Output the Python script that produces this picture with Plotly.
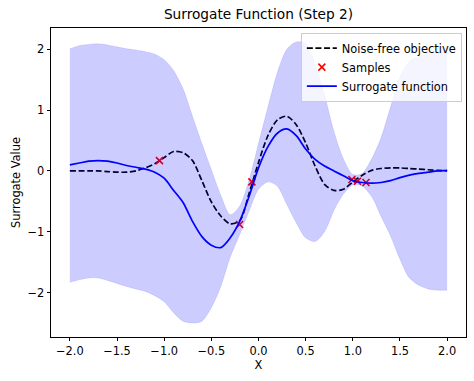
import plotly.graph_objects as go

# ---- data ----
x_grid = [-2.0, -1.9, -1.8, -1.7, -1.6, -1.5, -1.4, -1.3, -1.2, -1.1, -1.0,
          -0.9, -0.8, -0.7, -0.6, -0.5, -0.4, -0.3, -0.2, -0.1, 0.0,
          0.1, 0.2, 0.3, 0.4, 0.5, 0.6, 0.7, 0.8, 0.9, 1.0,
          1.1, 1.2, 1.3, 1.4, 1.5, 1.6, 1.7, 1.8, 1.9, 2.0]

objective = [0.00, 0.00, 0.00, 0.00, -0.01, -0.02, -0.02, 0.00, 0.05, 0.12, 0.22,
             0.32, 0.30, 0.17, -0.16, -0.51, -0.74, -0.87, -0.82, -0.37, 0.14,
             0.58, 0.84, 0.90, 0.76, 0.46, 0.08, -0.22, -0.32, -0.30, -0.18,
             -0.07, 0.01, 0.04, 0.05, 0.05, 0.04, 0.03, 0.02, 0.01, 0.00]

surrogate = [0.10, 0.13, 0.16, 0.17, 0.16, 0.13, 0.09, 0.06, 0.03, -0.02, -0.12,
             -0.32, -0.52, -0.83, -1.08, -1.22, -1.26, -1.10, -0.83, -0.42, 0.05,
             0.40, 0.62, 0.69, 0.58, 0.36, 0.19, 0.08, 0.00, -0.08, -0.16,
             -0.19, -0.20, -0.19, -0.16, -0.11, -0.07, -0.04, -0.02, 0.00, 0.01]

upper = [2.01, 2.06, 2.08, 2.09, 2.07, 2.04, 2.01, 1.99, 1.96, 1.92, 1.83,
         1.65, 1.35, 0.90, 0.45, 0.02, -0.40, -0.72, -0.58, -0.15, 0.45,
         1.05, 1.62, 2.00, 2.12, 2.10, 1.75, 1.25, 0.65, 0.20, -0.06,
         -0.04, 0.20, 0.55, 1.05, 1.55, 1.80, 1.88, 1.93, 1.96, 1.97]

lower = [-1.83, -1.79, -1.76, -1.76, -1.80, -1.85, -1.90, -1.94, -1.98, -2.05, -2.15,
         -2.33, -2.47, -2.50, -2.47, -2.25, -1.90, -1.42, -1.05, -0.66, -0.30,
         -0.18, -0.25, -0.55, -0.85, -1.10, -1.16, -1.00, -0.65, -0.38, -0.23,
         -0.25, -0.42, -0.75, -1.07, -1.45, -1.76, -1.88, -1.94, -1.96, -1.96]

sample_x = [-1.05, -0.20, -0.07, 0.99, 1.05, 1.14]
sample_y = [0.17, -0.88, -0.18, -0.14, -0.17, -0.19]

x_ticks = [-2.0, -1.5, -1.0, -0.5, 0.0, 0.5, 1.0, 1.5, 2.0]
x_tick_labels = ["\u22122.0", "\u22121.5", "\u22121.0", "\u22120.5", "0.0", "0.5", "1.0", "1.5", "2.0"]
y_ticks = [-2, -1, 0, 1, 2]
y_tick_labels = ["\u22122", "\u22121", "0", "1", "2"]

FONT = "DejaVu Sans"
FS = 11.4

fig = go.Figure()

fig.add_trace(go.Scatter(
    x=x_grid, y=objective, mode="lines", name="Noise-free objective",
    line=dict(color="black", width=1.7, dash="6px,2.6px", shape="spline", smoothing=0.8),
))
fig.add_trace(go.Scatter(
    x=sample_x, y=sample_y, mode="markers", name="Samples",
    marker=dict(symbol="x-thin", size=7, line=dict(color="red", width=1.6), color="red"),
))
fig.add_trace(go.Scatter(
    x=x_grid, y=surrogate, mode="lines", name="Surrogate function",
    line=dict(color="blue", width=1.7, shape="spline", smoothing=0.8),
))
# confidence band drawn last (over the lines, like the reference)
fig.add_trace(go.Scatter(
    x=x_grid, y=lower, mode="lines", showlegend=False, hoverinfo="skip",
    line=dict(color="rgba(0,0,255,0.12)", width=0.8, shape="spline", smoothing=0.8),
))
fig.add_trace(go.Scatter(
    x=x_grid, y=upper, mode="lines", showlegend=False, hoverinfo="skip",
    fill="tonexty", fillcolor="rgba(0,0,255,0.2)",
    line=dict(color="rgba(0,0,255,0.12)", width=0.8, shape="spline", smoothing=0.8),
))

axis_common = dict(
    showgrid=False, zeroline=False, showline=True, linecolor="black", linewidth=0.8,
    mirror=True, ticks="outside", ticklen=3.5, tickwidth=0.8, tickcolor="black",
    tickfont=dict(family=FONT, size=FS, color="black"), automargin=False,
)

fig.update_layout(
    width=474, height=381,
    margin=dict(l=51, r=8, t=28, b=44, autoexpand=False),
    paper_bgcolor="white", plot_bgcolor="white",
    font=dict(family=FONT, size=FS, color="black"),
    title=dict(text="Surrogate Function (Step 2)", x=0.5, xref="paper", xanchor="center",
               y=0.962, yref="container", yanchor="middle",
               font=dict(family=FONT, size=13.7, color="black")),
    xaxis=dict(range=[-2.2, 2.2], tickvals=x_ticks, ticktext=x_tick_labels,
               title=dict(text="X", font=dict(family=FONT, size=FS, color="black"), standoff=2),
               **axis_common),
    yaxis=dict(range=[-2.73, 2.35], tickvals=y_ticks, ticktext=y_tick_labels,
               title=dict(text="Surrogate Value", font=dict(family=FONT, size=FS, color="black"), standoff=4),
               **axis_common),
    legend=dict(x=0.99, y=0.985, xanchor="right", yanchor="top", traceorder="normal",
                bgcolor="rgba(255,255,255,0.8)", bordercolor="#cccccc", borderwidth=1,
                font=dict(family=FONT, size=FS, color="black"),
                tracegroupgap=0, itemwidth=30),
    showlegend=True,
)

fig.write_html(
    "out.html",
    config={"displayModeBar": False},
    post_script="document.body.style.margin='0';document.body.style.padding='0';",
)
